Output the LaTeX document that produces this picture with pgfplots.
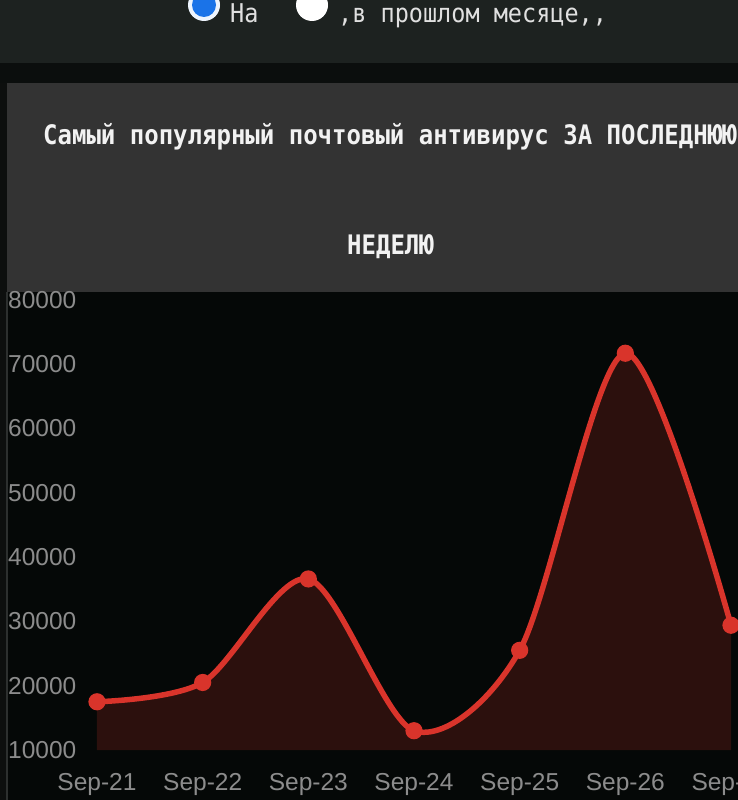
\documentclass[border=0pt]{standalone}
\usepackage{fontspec}
\setmainfont{Liberation Sans}
\newfontfamily\monofont{DejaVu Sans Mono}
\usepackage{pgfplots}
\usepackage{pgfplotstable}
\pgfplotsset{compat=1.18}

\definecolor{topbar}{RGB}{29,34,32}
\definecolor{band}{RGB}{11,14,13}
\definecolor{titlebox}{RGB}{51,51,51}
\definecolor{chartbg}{RGB}{5,8,7}
\definecolor{edge}{RGB}{13,15,14}
\definecolor{lineedge}{RGB}{45,48,47}
\definecolor{linered}{RGB}{217,52,43}
\definecolor{fillred}{RGB}{44,16,13}
\definecolor{tickgray}{RGB}{140,140,140}
\definecolor{radioblue}{RGB}{26,115,232}

% weekly mail antivirus counts
\pgfplotstableread{
x y
0 17500
1 20500
2 36600
3 13000
4 25500
5 71700
6 29400
}\weekdata

\begin{document}
\begin{tikzpicture}[x=1pt,y=1pt]
  \useasboundingbox (0,0) rectangle (738,800);
  \clip (0,0) rectangle (738,800);

  % screen background
  \fill[topbar] (0,737) rectangle (738,800);
  \fill[band] (0,717) rectangle (738,737);
  \fill[edge] (0,0) rectangle (738,717);
  \fill[titlebox] (7,508) rectangle (738,717);
  \fill[chartbg] (8,0) rectangle (738,508);
  \draw[lineedge, line width=1.2pt] (7,0) -- (7,508);

  % radio buttons
  \fill[white!92!radioblue] (204,795) circle (16);
  \fill[radioblue] (204,795) circle (12);
  \fill[white] (312,795) circle (16);
  \node[anchor=base west, inner sep=0pt, text=white!88!black, yscale=1.1,
        font=\monofont\fontsize{23.5}{28}\selectfont] at (230,777) {На};
  \node[anchor=base west, inner sep=0pt, text=white!88!black, yscale=1.1,
        font=\monofont\fontsize{23.5}{28}\selectfont] at (338,777) {,в прошлом месяце,,};

  % title
  \node[anchor=base west, inner sep=0pt, text=white!95!black, yscale=1.12,
        font=\monofont\bfseries\fontsize{24}{28}\selectfont] at (43,655)
        {Самый популярный почтовый антивирус ЗА ПОСЛЕДНЮЮ};
  \node[anchor=base west, inner sep=0pt, text=white!95!black, yscale=1.12,
        font=\monofont\bfseries\fontsize{24}{28}\selectfont] at (347,545)
        {НЕДЕЛЮ};

  \begin{axis}[
    at={(97pt,50pt)},
    anchor=south west,
    scale only axis,
    width=792.5pt,
    height=458.5pt,
    xmin=0, xmax=7.5,
    ymin=10000, ymax=81300,
    axis line style={draw=none},
    major tick length=0pt,
    tick style={draw=none},
    xtick={0,1,2,3,4,5,6},
    xticklabels={Sep-21,Sep-22,Sep-23,Sep-24,Sep-25,Sep-26,Sep-27},
    ytick={10000,20000,30000,40000,50000,60000,70000,80000},
    scaled y ticks=false,
    /pgf/number format/1000 sep={},
    /pgf/number format/assume math mode=true,
    tick label style={font=\fontsize{24.5}{28}\selectfont, text=tickgray, inner sep=0pt},
    xticklabel style={anchor=base, yshift=-40pt},
    yticklabel style={anchor=base west, xshift=-89pt, yshift=-8.5pt},
  ]
    \addplot[draw=none, fill=fillred, smooth] table[x=x, y=y] {\weekdata} \closedcycle;
    \addplot[linered, line width=5.5pt, smooth,
      mark=*, mark size=5.8pt, mark options={fill=linered, draw=none}]
      table[x=x, y=y] {\weekdata};
  \end{axis}
\end{tikzpicture}
\end{document}
